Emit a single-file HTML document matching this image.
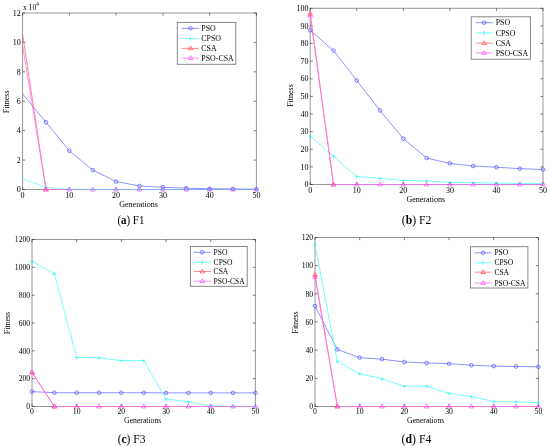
<!DOCTYPE html>
<html><head><meta charset="utf-8"><title>Fitness curves</title>
<style>
html,body{margin:0;padding:0;background:#fff;}
svg{display:block}
.t{font-family:"Liberation Serif",serif;fill:#000}
.cap{font-family:"Liberation Serif",serif;font-size:12px;fill:#000}
</style></head><body>
<svg width="550" height="447" viewBox="0 0 550 447">
<rect width="550" height="447" fill="#fff"/>
<g class="chart-a" font-size="8.0">
<rect x="22.6" y="13.0" width="233.80" height="176.50" fill="#fff" stroke="#989898" stroke-opacity="1" stroke-width="1.0"/>
<path d="M22.60 189.5v-2.6M22.60 13.0v2.6M69.36 189.5v-2.6M69.36 13.0v2.6M116.12 189.5v-2.6M116.12 13.0v2.6M162.88 189.5v-2.6M162.88 13.0v2.6M209.64 189.5v-2.6M209.64 13.0v2.6M256.40 189.5v-2.6M256.40 13.0v2.6M22.6 189.50h2.6M256.4 189.50h-2.6M22.6 160.08h2.6M256.4 160.08h-2.6M22.6 130.67h2.6M256.4 130.67h-2.6M22.6 101.25h2.6M256.4 101.25h-2.6M22.6 71.83h2.6M256.4 71.83h-2.6M22.6 42.42h2.6M256.4 42.42h-2.6M22.6 13.00h2.6M256.4 13.00h-2.6" stroke="#222" stroke-opacity="0.75" stroke-width="0.8" fill="none"/>
<text x="22.60" y="197.70" text-anchor="middle" class="t">0</text>
<text x="69.36" y="197.70" text-anchor="middle" class="t">10</text>
<text x="116.12" y="197.70" text-anchor="middle" class="t">20</text>
<text x="162.88" y="197.70" text-anchor="middle" class="t">30</text>
<text x="209.64" y="197.70" text-anchor="middle" class="t">40</text>
<text x="256.40" y="197.70" text-anchor="middle" class="t">50</text>
<text x="20.80" y="192.20" text-anchor="end" class="t">0</text>
<text x="20.80" y="162.78" text-anchor="end" class="t">2</text>
<text x="20.80" y="133.37" text-anchor="end" class="t">4</text>
<text x="20.80" y="103.95" text-anchor="end" class="t">6</text>
<text x="20.80" y="74.53" text-anchor="end" class="t">8</text>
<text x="20.80" y="45.12" text-anchor="end" class="t">10</text>
<text x="20.80" y="15.70" text-anchor="end" class="t">12</text>
<text x="22.90" y="10.00" class="t" font-size="7.6">x 10<tspan dy="-4.4" font-size="5.2">4</tspan></text>
<text x="138.60" y="207.00" text-anchor="middle" class="t">Generations</text>
<text transform="translate(9.40 101.85) rotate(-90)" text-anchor="middle" class="t">Fitness</text>
<polyline points="22.60,93.90 45.98,122.28 69.36,150.82 92.74,170.09 116.12,181.56 139.50,185.97 162.88,187.29 186.26,188.18 209.64,188.76 233.02,188.91 256.40,189.21" fill="none" stroke="#7272ff" stroke-width="0.78"/>
<polyline points="22.60,34.18 45.98,189.50" fill="none" stroke="#ff6868" stroke-width="0.78"/>
<polyline points="22.60,45.65 45.98,189.50 69.36,189.50 92.74,189.50 116.12,189.50 139.50,189.50 162.88,189.50 186.26,189.50 209.64,189.50 233.02,189.50 256.40,189.50" fill="none" stroke="#ff6cfb" stroke-width="0.78"/>
<polyline points="22.60,178.69 45.98,187.29 69.36,189.21 92.74,189.50 116.12,189.50 139.50,189.50 162.88,189.50 186.26,189.50 209.64,189.50 233.02,189.50 256.40,189.50" fill="none" stroke="#00f0f0" stroke-opacity="0.55" stroke-width="0.78"/>
<circle cx="45.98" cy="122.28" r="1.8" fill="none" stroke="#4c4cff" stroke-width="0.7"/>
<circle cx="69.36" cy="150.82" r="1.8" fill="none" stroke="#4c4cff" stroke-width="0.7"/>
<circle cx="92.74" cy="170.09" r="1.8" fill="none" stroke="#4c4cff" stroke-width="0.7"/>
<circle cx="116.12" cy="181.56" r="1.8" fill="none" stroke="#4c4cff" stroke-width="0.7"/>
<circle cx="139.50" cy="185.97" r="1.8" fill="none" stroke="#4c4cff" stroke-width="0.7"/>
<circle cx="162.88" cy="187.29" r="1.8" fill="none" stroke="#4c4cff" stroke-width="0.7"/>
<circle cx="186.26" cy="188.18" r="1.8" fill="none" stroke="#4c4cff" stroke-width="0.7"/>
<circle cx="209.64" cy="188.76" r="1.8" fill="none" stroke="#4c4cff" stroke-width="0.7"/>
<circle cx="233.02" cy="188.91" r="1.8" fill="none" stroke="#4c4cff" stroke-width="0.7"/>
<circle cx="256.40" cy="189.21" r="1.8" fill="none" stroke="#4c4cff" stroke-width="0.7"/>
<path d="M44.18 187.29H47.78M45.98 185.99V189.49" fill="none" stroke="#30f0f0" stroke-width="0.7"/>
<path d="M67.56 189.21H71.16M69.36 187.91V191.41" fill="none" stroke="#30f0f0" stroke-width="0.7"/>
<path d="M90.94 189.50H94.54M92.74 188.20V191.70" fill="none" stroke="#30f0f0" stroke-width="0.7"/>
<path d="M114.32 189.50H117.92M116.12 188.20V191.70" fill="none" stroke="#30f0f0" stroke-width="0.7"/>
<path d="M137.70 189.50H141.30M139.50 188.20V191.70" fill="none" stroke="#30f0f0" stroke-width="0.7"/>
<path d="M161.08 189.50H164.68M162.88 188.20V191.70" fill="none" stroke="#30f0f0" stroke-width="0.7"/>
<path d="M184.46 189.50H188.06M186.26 188.20V191.70" fill="none" stroke="#30f0f0" stroke-width="0.7"/>
<path d="M207.84 189.50H211.44M209.64 188.20V191.70" fill="none" stroke="#30f0f0" stroke-width="0.7"/>
<path d="M231.22 189.50H234.82M233.02 188.20V191.70" fill="none" stroke="#30f0f0" stroke-width="0.7"/>
<path d="M254.60 189.50H258.20M256.40 188.20V191.70" fill="none" stroke="#30f0f0" stroke-width="0.7"/>
<path d="M45.98 187.20L48.28 190.93H43.68Z" fill="none" stroke="#ff4040" stroke-width="0.7"/>
<path d="M45.98 187.20L48.28 190.93H43.68Z" fill="none" stroke="#ff40f8" stroke-width="0.7"/>
<path d="M69.36 187.20L71.66 190.93H67.06Z" fill="none" stroke="#ff40f8" stroke-width="0.7"/>
<path d="M92.74 187.20L95.04 190.93H90.44Z" fill="none" stroke="#ff40f8" stroke-width="0.7"/>
<path d="M116.12 187.20L118.42 190.93H113.82Z" fill="none" stroke="#ff40f8" stroke-width="0.7"/>
<path d="M139.50 187.20L141.80 190.93H137.20Z" fill="none" stroke="#ff40f8" stroke-width="0.7"/>
<path d="M162.88 187.20L165.18 190.93H160.58Z" fill="none" stroke="#ff40f8" stroke-width="0.7"/>
<path d="M186.26 187.20L188.56 190.93H183.96Z" fill="none" stroke="#ff40f8" stroke-width="0.7"/>
<path d="M209.64 187.20L211.94 190.93H207.34Z" fill="none" stroke="#ff40f8" stroke-width="0.7"/>
<path d="M233.02 187.20L235.32 190.93H230.72Z" fill="none" stroke="#ff40f8" stroke-width="0.7"/>
<path d="M256.40 187.20L258.70 190.93H254.10Z" fill="none" stroke="#ff40f8" stroke-width="0.7"/>
<rect x="177.3" y="22.4" width="58.50" height="41.90" fill="#fff" stroke="#7c7c7c" stroke-width="0.9"/>
<path d="M181.7 28.4H198.8" stroke="#7272ff" stroke-width="0.78"/>
<circle cx="190.60" cy="28.40" r="1.8" fill="none" stroke="#4c4cff" stroke-width="0.7"/>
<text x="201.3" y="31.00" class="t" font-size="7.9">PSO</text>
<path d="M181.7 38.5H198.8" stroke="#50fcfc" stroke-width="0.78"/>
<path d="M190.60 36.20V40.80" fill="none" stroke="#30f0f0" stroke-width="0.7"/>
<text x="201.3" y="41.10" class="t" font-size="7.9">CPSO</text>
<path d="M181.7 48.4H198.8" stroke="#ff6868" stroke-width="0.78"/>
<path d="M190.60 46.10L192.90 49.83H188.30Z" fill="none" stroke="#ff4040" stroke-width="0.7"/>
<text x="201.3" y="51.00" class="t" font-size="7.9">CSA</text>
<path d="M181.7 58.1H198.8" stroke="#ff6cfb" stroke-width="0.78"/>
<path d="M190.60 55.80L192.90 59.53H188.30Z" fill="none" stroke="#ff40f8" stroke-width="0.7"/>
<text x="201.3" y="60.70" class="t" font-size="7.9">PSO-CSA</text>
<text x="117.40" y="224.00" textLength="27.0" lengthAdjust="spacingAndGlyphs" class="cap">(<tspan font-weight="bold">a</tspan>) F1</text>
</g>
<g class="chart-b" font-size="8.0">
<rect x="310.2" y="8.3" width="232.80" height="176.20" fill="#fff" stroke="#989898" stroke-opacity="1" stroke-width="1.0"/>
<path d="M310.20 184.5v-2.6M310.20 8.3v2.6M356.76 184.5v-2.6M356.76 8.3v2.6M403.32 184.5v-2.6M403.32 8.3v2.6M449.88 184.5v-2.6M449.88 8.3v2.6M496.44 184.5v-2.6M496.44 8.3v2.6M543.00 184.5v-2.6M543.00 8.3v2.6M310.2 184.50h2.6M543.0 184.50h-2.6M310.2 166.88h2.6M543.0 166.88h-2.6M310.2 149.26h2.6M543.0 149.26h-2.6M310.2 131.64h2.6M543.0 131.64h-2.6M310.2 114.02h2.6M543.0 114.02h-2.6M310.2 96.40h2.6M543.0 96.40h-2.6M310.2 78.78h2.6M543.0 78.78h-2.6M310.2 61.16h2.6M543.0 61.16h-2.6M310.2 43.54h2.6M543.0 43.54h-2.6M310.2 25.92h2.6M543.0 25.92h-2.6M310.2 8.30h2.6M543.0 8.30h-2.6" stroke="#222" stroke-opacity="0.75" stroke-width="0.8" fill="none"/>
<text x="310.20" y="192.80" text-anchor="middle" class="t">0</text>
<text x="356.76" y="192.80" text-anchor="middle" class="t">10</text>
<text x="403.32" y="192.80" text-anchor="middle" class="t">20</text>
<text x="449.88" y="192.80" text-anchor="middle" class="t">30</text>
<text x="496.44" y="192.80" text-anchor="middle" class="t">40</text>
<text x="543.00" y="192.80" text-anchor="middle" class="t">50</text>
<text x="308.40" y="187.20" text-anchor="end" class="t">0</text>
<text x="308.40" y="169.58" text-anchor="end" class="t">10</text>
<text x="308.40" y="151.96" text-anchor="end" class="t">20</text>
<text x="308.40" y="134.34" text-anchor="end" class="t">30</text>
<text x="308.40" y="116.72" text-anchor="end" class="t">40</text>
<text x="308.40" y="99.10" text-anchor="end" class="t">50</text>
<text x="308.40" y="81.48" text-anchor="end" class="t">60</text>
<text x="308.40" y="63.86" text-anchor="end" class="t">70</text>
<text x="308.40" y="46.24" text-anchor="end" class="t">80</text>
<text x="308.40" y="28.62" text-anchor="end" class="t">90</text>
<text x="308.40" y="11.00" text-anchor="end" class="t">100</text>
<text x="425.80" y="202.10" text-anchor="middle" class="t">Generations</text>
<text transform="translate(292.70 95.60) rotate(-90)" text-anchor="middle" class="t">Fitness</text>
<polyline points="310.20,30.33 333.48,50.59 356.76,80.54 380.04,110.50 403.32,138.69 426.60,158.07 449.88,163.36 473.16,166.00 496.44,167.23 519.72,168.64 543.00,169.52" fill="none" stroke="#7272ff" stroke-width="0.78"/>
<polyline points="310.20,136.05 333.48,156.31 356.76,176.57 380.04,178.33 403.32,180.45 426.60,180.98 449.88,182.39 473.16,182.74 496.44,183.09 519.72,183.44 543.00,183.62" fill="none" stroke="#50fcfc" stroke-width="0.78"/>
<polyline points="310.20,13.59 333.48,184.50" fill="none" stroke="#ff6868" stroke-width="0.78"/>
<polyline points="310.20,15.35 333.48,184.50 356.76,184.50 380.04,184.50 403.32,184.50 426.60,184.50 449.88,184.50 473.16,184.50 496.44,184.50 519.72,184.50 543.00,184.50" fill="none" stroke="#ff6cfb" stroke-width="0.78"/>
<circle cx="310.20" cy="30.33" r="1.8" fill="none" stroke="#4c4cff" stroke-width="0.7"/>
<circle cx="333.48" cy="50.59" r="1.8" fill="none" stroke="#4c4cff" stroke-width="0.7"/>
<circle cx="356.76" cy="80.54" r="1.8" fill="none" stroke="#4c4cff" stroke-width="0.7"/>
<circle cx="380.04" cy="110.50" r="1.8" fill="none" stroke="#4c4cff" stroke-width="0.7"/>
<circle cx="403.32" cy="138.69" r="1.8" fill="none" stroke="#4c4cff" stroke-width="0.7"/>
<circle cx="426.60" cy="158.07" r="1.8" fill="none" stroke="#4c4cff" stroke-width="0.7"/>
<circle cx="449.88" cy="163.36" r="1.8" fill="none" stroke="#4c4cff" stroke-width="0.7"/>
<circle cx="473.16" cy="166.00" r="1.8" fill="none" stroke="#4c4cff" stroke-width="0.7"/>
<circle cx="496.44" cy="167.23" r="1.8" fill="none" stroke="#4c4cff" stroke-width="0.7"/>
<circle cx="519.72" cy="168.64" r="1.8" fill="none" stroke="#4c4cff" stroke-width="0.7"/>
<circle cx="543.00" cy="169.52" r="1.8" fill="none" stroke="#4c4cff" stroke-width="0.7"/>
<path d="M308.40 136.05H312.00M310.20 134.75V138.25" fill="none" stroke="#30f0f0" stroke-width="0.7"/>
<path d="M331.68 156.31H335.28M333.48 155.01V158.51" fill="none" stroke="#30f0f0" stroke-width="0.7"/>
<path d="M354.96 176.57H358.56M356.76 175.27V178.77" fill="none" stroke="#30f0f0" stroke-width="0.7"/>
<path d="M378.24 178.33H381.84M380.04 177.03V180.53" fill="none" stroke="#30f0f0" stroke-width="0.7"/>
<path d="M401.52 180.45H405.12M403.32 179.15V182.65" fill="none" stroke="#30f0f0" stroke-width="0.7"/>
<path d="M424.80 180.98H428.40M426.60 179.68V183.18" fill="none" stroke="#30f0f0" stroke-width="0.7"/>
<path d="M448.08 182.39H451.68M449.88 181.09V184.59" fill="none" stroke="#30f0f0" stroke-width="0.7"/>
<path d="M471.36 182.74H474.96M473.16 181.44V184.94" fill="none" stroke="#30f0f0" stroke-width="0.7"/>
<path d="M494.64 183.09H498.24M496.44 181.79V185.29" fill="none" stroke="#30f0f0" stroke-width="0.7"/>
<path d="M517.92 183.44H521.52M519.72 182.14V185.64" fill="none" stroke="#30f0f0" stroke-width="0.7"/>
<path d="M541.20 183.62H544.80M543.00 182.32V185.82" fill="none" stroke="#30f0f0" stroke-width="0.7"/>
<path d="M310.20 11.29L312.50 15.01H307.90Z" fill="none" stroke="#ff4040" stroke-width="0.7"/>
<path d="M333.48 182.20L335.78 185.93H331.18Z" fill="none" stroke="#ff4040" stroke-width="0.7"/>
<path d="M310.20 13.05L312.50 16.77H307.90Z" fill="none" stroke="#ff40f8" stroke-width="0.7"/>
<path d="M333.48 182.20L335.78 185.93H331.18Z" fill="none" stroke="#ff40f8" stroke-width="0.7"/>
<path d="M356.76 182.20L359.06 185.93H354.46Z" fill="none" stroke="#ff40f8" stroke-width="0.7"/>
<path d="M380.04 182.20L382.34 185.93H377.74Z" fill="none" stroke="#ff40f8" stroke-width="0.7"/>
<path d="M403.32 182.20L405.62 185.93H401.02Z" fill="none" stroke="#ff40f8" stroke-width="0.7"/>
<path d="M426.60 182.20L428.90 185.93H424.30Z" fill="none" stroke="#ff40f8" stroke-width="0.7"/>
<path d="M449.88 182.20L452.18 185.93H447.58Z" fill="none" stroke="#ff40f8" stroke-width="0.7"/>
<path d="M473.16 182.20L475.46 185.93H470.86Z" fill="none" stroke="#ff40f8" stroke-width="0.7"/>
<path d="M496.44 182.20L498.74 185.93H494.14Z" fill="none" stroke="#ff40f8" stroke-width="0.7"/>
<path d="M519.72 182.20L522.02 185.93H517.42Z" fill="none" stroke="#ff40f8" stroke-width="0.7"/>
<path d="M543.00 182.20L545.30 185.93H540.70Z" fill="none" stroke="#ff40f8" stroke-width="0.7"/>
<rect x="471.2" y="16.8" width="59.20" height="42.40" fill="#fff" stroke="#7c7c7c" stroke-width="0.9"/>
<path d="M475.6 22.7H492.9" stroke="#7272ff" stroke-width="0.78"/>
<circle cx="484.20" cy="22.70" r="1.8" fill="none" stroke="#4c4cff" stroke-width="0.7"/>
<text x="495.7" y="25.30" class="t" font-size="7.9">PSO</text>
<path d="M475.6 32.9H492.9" stroke="#50fcfc" stroke-width="0.78"/>
<path d="M484.20 30.60V35.20" fill="none" stroke="#30f0f0" stroke-width="0.7"/>
<text x="495.7" y="35.50" class="t" font-size="7.9">CPSO</text>
<path d="M475.6 43.1H492.9" stroke="#ff6868" stroke-width="0.78"/>
<path d="M484.20 40.80L486.50 44.53H481.90Z" fill="none" stroke="#ff4040" stroke-width="0.7"/>
<text x="495.7" y="45.70" class="t" font-size="7.9">CSA</text>
<path d="M475.6 52.9H492.9" stroke="#ff6cfb" stroke-width="0.78"/>
<path d="M484.20 50.60L486.50 54.33H481.90Z" fill="none" stroke="#ff40f8" stroke-width="0.7"/>
<text x="495.7" y="55.50" class="t" font-size="7.9">PSO-CSA</text>
<text x="401.80" y="224.00" textLength="29.6" lengthAdjust="spacingAndGlyphs" class="cap">(<tspan font-weight="bold">b</tspan>) F2</text>
</g>
<g class="chart-c" font-size="7.7">
<rect x="32.0" y="239.5" width="223.40" height="167.00" fill="#fff" stroke="#989898" stroke-opacity="1" stroke-width="1.0"/>
<path d="M32.00 406.5v-2.6M32.00 239.5v2.6M76.68 406.5v-2.6M76.68 239.5v2.6M121.36 406.5v-2.6M121.36 239.5v2.6M166.04 406.5v-2.6M166.04 239.5v2.6M210.72 406.5v-2.6M210.72 239.5v2.6M255.40 406.5v-2.6M255.40 239.5v2.6M32.0 406.50h2.6M255.4 406.50h-2.6M32.0 378.67h2.6M255.4 378.67h-2.6M32.0 350.83h2.6M255.4 350.83h-2.6M32.0 323.00h2.6M255.4 323.00h-2.6M32.0 295.17h2.6M255.4 295.17h-2.6M32.0 267.33h2.6M255.4 267.33h-2.6M32.0 239.50h2.6M255.4 239.50h-2.6" stroke="#222" stroke-opacity="0.75" stroke-width="0.8" fill="none"/>
<text x="32.00" y="414.20" text-anchor="middle" class="t">0</text>
<text x="76.68" y="414.20" text-anchor="middle" class="t">10</text>
<text x="121.36" y="414.20" text-anchor="middle" class="t">20</text>
<text x="166.04" y="414.20" text-anchor="middle" class="t">30</text>
<text x="210.72" y="414.20" text-anchor="middle" class="t">40</text>
<text x="255.40" y="414.20" text-anchor="middle" class="t">50</text>
<text x="30.20" y="409.20" text-anchor="end" class="t">0</text>
<text x="30.20" y="381.37" text-anchor="end" class="t">200</text>
<text x="30.20" y="353.53" text-anchor="end" class="t">400</text>
<text x="30.20" y="325.70" text-anchor="end" class="t">600</text>
<text x="30.20" y="297.87" text-anchor="end" class="t">800</text>
<text x="30.20" y="270.03" text-anchor="end" class="t">1000</text>
<text x="30.20" y="242.20" text-anchor="end" class="t">1200</text>
<text x="142.70" y="422.80" text-anchor="middle" class="t">Generations</text>
<text transform="translate(10.40 323.00) rotate(-90)" text-anchor="middle" class="t">Fitness</text>
<polyline points="32.00,391.61 54.34,392.72 76.68,392.72 99.02,392.72 121.36,392.72 143.70,392.72 166.04,392.86 188.38,392.86 210.72,392.86 233.06,392.86 255.40,392.86" fill="none" stroke="#7272ff" stroke-width="0.78"/>
<polyline points="32.00,261.49 54.34,273.60 76.68,357.51 99.02,357.79 121.36,360.57 143.70,360.57 166.04,399.12 188.38,401.63 210.72,405.94 233.06,406.22 255.40,406.36" fill="none" stroke="#50fcfc" stroke-width="0.78"/>
<polyline points="32.00,372.13 54.34,406.50" fill="none" stroke="#ff6868" stroke-width="0.78"/>
<polyline points="32.00,372.68 54.34,406.50 76.68,406.50 99.02,406.50 121.36,406.50 143.70,406.50 166.04,406.50 188.38,406.50 210.72,406.50 233.06,406.50 255.40,406.50" fill="none" stroke="#ff6cfb" stroke-width="0.78"/>
<circle cx="32.00" cy="391.61" r="1.8" fill="none" stroke="#4c4cff" stroke-width="0.7"/>
<circle cx="54.34" cy="392.72" r="1.8" fill="none" stroke="#4c4cff" stroke-width="0.7"/>
<circle cx="76.68" cy="392.72" r="1.8" fill="none" stroke="#4c4cff" stroke-width="0.7"/>
<circle cx="99.02" cy="392.72" r="1.8" fill="none" stroke="#4c4cff" stroke-width="0.7"/>
<circle cx="121.36" cy="392.72" r="1.8" fill="none" stroke="#4c4cff" stroke-width="0.7"/>
<circle cx="143.70" cy="392.72" r="1.8" fill="none" stroke="#4c4cff" stroke-width="0.7"/>
<circle cx="166.04" cy="392.86" r="1.8" fill="none" stroke="#4c4cff" stroke-width="0.7"/>
<circle cx="188.38" cy="392.86" r="1.8" fill="none" stroke="#4c4cff" stroke-width="0.7"/>
<circle cx="210.72" cy="392.86" r="1.8" fill="none" stroke="#4c4cff" stroke-width="0.7"/>
<circle cx="233.06" cy="392.86" r="1.8" fill="none" stroke="#4c4cff" stroke-width="0.7"/>
<circle cx="255.40" cy="392.86" r="1.8" fill="none" stroke="#4c4cff" stroke-width="0.7"/>
<path d="M30.20 261.49H33.80M32.00 260.19V263.69" fill="none" stroke="#30f0f0" stroke-width="0.7"/>
<path d="M52.54 273.60H56.14M54.34 272.30V275.80" fill="none" stroke="#30f0f0" stroke-width="0.7"/>
<path d="M74.88 357.51H78.48M76.68 356.21V359.71" fill="none" stroke="#30f0f0" stroke-width="0.7"/>
<path d="M97.22 357.79H100.82M99.02 356.49V359.99" fill="none" stroke="#30f0f0" stroke-width="0.7"/>
<path d="M119.56 360.57H123.16M121.36 359.27V362.77" fill="none" stroke="#30f0f0" stroke-width="0.7"/>
<path d="M141.90 360.57H145.50M143.70 359.27V362.77" fill="none" stroke="#30f0f0" stroke-width="0.7"/>
<path d="M164.24 399.12H167.84M166.04 397.82V401.32" fill="none" stroke="#30f0f0" stroke-width="0.7"/>
<path d="M186.58 401.63H190.18M188.38 400.33V403.83" fill="none" stroke="#30f0f0" stroke-width="0.7"/>
<path d="M208.92 405.94H212.52M210.72 404.64V408.14" fill="none" stroke="#30f0f0" stroke-width="0.7"/>
<path d="M231.26 406.22H234.86M233.06 404.92V408.42" fill="none" stroke="#30f0f0" stroke-width="0.7"/>
<path d="M253.60 406.36H257.20M255.40 405.06V408.56" fill="none" stroke="#30f0f0" stroke-width="0.7"/>
<path d="M32.00 369.83L34.30 373.55H29.70Z" fill="none" stroke="#ff4040" stroke-width="0.7"/>
<path d="M54.34 404.20L56.64 407.93H52.04Z" fill="none" stroke="#ff4040" stroke-width="0.7"/>
<path d="M32.00 370.38L34.30 374.11H29.70Z" fill="none" stroke="#ff40f8" stroke-width="0.7"/>
<path d="M54.34 404.20L56.64 407.93H52.04Z" fill="none" stroke="#ff40f8" stroke-width="0.7"/>
<path d="M76.68 404.20L78.98 407.93H74.38Z" fill="none" stroke="#ff40f8" stroke-width="0.7"/>
<path d="M99.02 404.20L101.32 407.93H96.72Z" fill="none" stroke="#ff40f8" stroke-width="0.7"/>
<path d="M121.36 404.20L123.66 407.93H119.06Z" fill="none" stroke="#ff40f8" stroke-width="0.7"/>
<path d="M143.70 404.20L146.00 407.93H141.40Z" fill="none" stroke="#ff40f8" stroke-width="0.7"/>
<path d="M166.04 404.20L168.34 407.93H163.74Z" fill="none" stroke="#ff40f8" stroke-width="0.7"/>
<path d="M188.38 404.20L190.68 407.93H186.08Z" fill="none" stroke="#ff40f8" stroke-width="0.7"/>
<path d="M210.72 404.20L213.02 407.93H208.42Z" fill="none" stroke="#ff40f8" stroke-width="0.7"/>
<path d="M233.06 404.20L235.36 407.93H230.76Z" fill="none" stroke="#ff40f8" stroke-width="0.7"/>
<path d="M255.40 404.20L257.70 407.93H253.10Z" fill="none" stroke="#ff40f8" stroke-width="0.7"/>
<rect x="190.4" y="246.5" width="56.80" height="39.80" fill="#fff" stroke="#7c7c7c" stroke-width="0.9"/>
<path d="M193.7 252.3H210.8" stroke="#7272ff" stroke-width="0.78"/>
<circle cx="202.30" cy="252.30" r="1.8" fill="none" stroke="#4c4cff" stroke-width="0.7"/>
<text x="213.6" y="254.90" class="t" font-size="7.55">PSO</text>
<path d="M193.7 262.3H210.8" stroke="#50fcfc" stroke-width="0.78"/>
<path d="M202.30 260.00V264.60" fill="none" stroke="#30f0f0" stroke-width="0.7"/>
<text x="213.6" y="264.90" class="t" font-size="7.55">CPSO</text>
<path d="M193.7 271.5H210.8" stroke="#ff6868" stroke-width="0.78"/>
<path d="M202.30 269.20L204.60 272.93H200.00Z" fill="none" stroke="#ff4040" stroke-width="0.7"/>
<text x="213.6" y="274.10" class="t" font-size="7.55">CSA</text>
<path d="M193.7 281.2H210.8" stroke="#ff6cfb" stroke-width="0.78"/>
<path d="M202.30 278.90L204.60 282.63H200.00Z" fill="none" stroke="#ff40f8" stroke-width="0.7"/>
<text x="213.6" y="283.80" class="t" font-size="7.55">PSO-CSA</text>
<text x="117.65" y="442.60" textLength="27.9" lengthAdjust="spacingAndGlyphs" class="cap">(<tspan font-weight="bold">c</tspan>) F3</text>
</g>
<g class="chart-d" font-size="7.7">
<rect x="315.0" y="237.5" width="223.40" height="169.00" fill="#fff" stroke="#989898" stroke-opacity="1" stroke-width="1.0"/>
<path d="M315.00 406.5v-2.6M315.00 237.5v2.6M359.68 406.5v-2.6M359.68 237.5v2.6M404.36 406.5v-2.6M404.36 237.5v2.6M449.04 406.5v-2.6M449.04 237.5v2.6M493.72 406.5v-2.6M493.72 237.5v2.6M538.40 406.5v-2.6M538.40 237.5v2.6M315.0 406.50h2.6M538.4 406.50h-2.6M315.0 378.33h2.6M538.4 378.33h-2.6M315.0 350.17h2.6M538.4 350.17h-2.6M315.0 322.00h2.6M538.4 322.00h-2.6M315.0 293.83h2.6M538.4 293.83h-2.6M315.0 265.67h2.6M538.4 265.67h-2.6M315.0 237.50h2.6M538.4 237.50h-2.6" stroke="#222" stroke-opacity="0.75" stroke-width="0.8" fill="none"/>
<text x="315.00" y="414.40" text-anchor="middle" class="t">0</text>
<text x="359.68" y="414.40" text-anchor="middle" class="t">10</text>
<text x="404.36" y="414.40" text-anchor="middle" class="t">20</text>
<text x="449.04" y="414.40" text-anchor="middle" class="t">30</text>
<text x="493.72" y="414.40" text-anchor="middle" class="t">40</text>
<text x="538.40" y="414.40" text-anchor="middle" class="t">50</text>
<text x="313.20" y="409.20" text-anchor="end" class="t">0</text>
<text x="313.20" y="381.03" text-anchor="end" class="t">20</text>
<text x="313.20" y="352.87" text-anchor="end" class="t">40</text>
<text x="313.20" y="324.70" text-anchor="end" class="t">60</text>
<text x="313.20" y="296.53" text-anchor="end" class="t">80</text>
<text x="313.20" y="268.37" text-anchor="end" class="t">100</text>
<text x="313.20" y="240.20" text-anchor="end" class="t">120</text>
<text x="425.70" y="423.10" text-anchor="middle" class="t">Generations</text>
<text transform="translate(297.60 322.50) rotate(-90)" text-anchor="middle" class="t">Fitness</text>
<polyline points="315.00,306.09 337.34,349.46 359.68,357.63 382.02,359.18 404.36,362.00 426.70,362.98 449.04,363.69 471.38,365.24 493.72,366.08 516.06,366.50 538.40,366.78" fill="none" stroke="#7272ff" stroke-width="0.78"/>
<polyline points="315.00,244.68 337.34,361.43 359.68,373.69 382.02,378.76 404.36,386.22 426.70,386.22 449.04,393.40 471.38,396.50 493.72,401.57 516.06,401.85 538.40,402.84" fill="none" stroke="#50fcfc" stroke-width="0.78"/>
<polyline points="315.00,274.82 337.34,406.50" fill="none" stroke="#ff6868" stroke-width="0.78"/>
<polyline points="315.00,276.93 337.34,406.50 359.68,406.50 382.02,406.50 404.36,406.50 426.70,406.50 449.04,406.50 471.38,406.50 493.72,406.50 516.06,406.50 538.40,406.50" fill="none" stroke="#ff6cfb" stroke-width="0.78"/>
<circle cx="315.00" cy="306.09" r="1.8" fill="none" stroke="#4c4cff" stroke-width="0.7"/>
<circle cx="337.34" cy="349.46" r="1.8" fill="none" stroke="#4c4cff" stroke-width="0.7"/>
<circle cx="359.68" cy="357.63" r="1.8" fill="none" stroke="#4c4cff" stroke-width="0.7"/>
<circle cx="382.02" cy="359.18" r="1.8" fill="none" stroke="#4c4cff" stroke-width="0.7"/>
<circle cx="404.36" cy="362.00" r="1.8" fill="none" stroke="#4c4cff" stroke-width="0.7"/>
<circle cx="426.70" cy="362.98" r="1.8" fill="none" stroke="#4c4cff" stroke-width="0.7"/>
<circle cx="449.04" cy="363.69" r="1.8" fill="none" stroke="#4c4cff" stroke-width="0.7"/>
<circle cx="471.38" cy="365.24" r="1.8" fill="none" stroke="#4c4cff" stroke-width="0.7"/>
<circle cx="493.72" cy="366.08" r="1.8" fill="none" stroke="#4c4cff" stroke-width="0.7"/>
<circle cx="516.06" cy="366.50" r="1.8" fill="none" stroke="#4c4cff" stroke-width="0.7"/>
<circle cx="538.40" cy="366.78" r="1.8" fill="none" stroke="#4c4cff" stroke-width="0.7"/>
<path d="M313.20 244.68H316.80M315.00 243.38V246.88" fill="none" stroke="#30f0f0" stroke-width="0.7"/>
<path d="M335.54 361.43H339.14M337.34 360.13V363.63" fill="none" stroke="#30f0f0" stroke-width="0.7"/>
<path d="M357.88 373.69H361.48M359.68 372.39V375.89" fill="none" stroke="#30f0f0" stroke-width="0.7"/>
<path d="M380.22 378.76H383.82M382.02 377.46V380.96" fill="none" stroke="#30f0f0" stroke-width="0.7"/>
<path d="M402.56 386.22H406.16M404.36 384.92V388.42" fill="none" stroke="#30f0f0" stroke-width="0.7"/>
<path d="M424.90 386.22H428.50M426.70 384.92V388.42" fill="none" stroke="#30f0f0" stroke-width="0.7"/>
<path d="M447.24 393.40H450.84M449.04 392.10V395.60" fill="none" stroke="#30f0f0" stroke-width="0.7"/>
<path d="M469.58 396.50H473.18M471.38 395.20V398.70" fill="none" stroke="#30f0f0" stroke-width="0.7"/>
<path d="M491.92 401.57H495.52M493.72 400.27V403.77" fill="none" stroke="#30f0f0" stroke-width="0.7"/>
<path d="M514.26 401.85H517.86M516.06 400.55V404.05" fill="none" stroke="#30f0f0" stroke-width="0.7"/>
<path d="M536.60 402.84H540.20M538.40 401.54V405.04" fill="none" stroke="#30f0f0" stroke-width="0.7"/>
<path d="M315.00 272.52L317.30 276.25H312.70Z" fill="none" stroke="#ff4040" stroke-width="0.7"/>
<path d="M337.34 404.20L339.64 407.93H335.04Z" fill="none" stroke="#ff4040" stroke-width="0.7"/>
<path d="M315.00 274.63L317.30 278.36H312.70Z" fill="none" stroke="#ff40f8" stroke-width="0.7"/>
<path d="M337.34 404.20L339.64 407.93H335.04Z" fill="none" stroke="#ff40f8" stroke-width="0.7"/>
<path d="M359.68 404.20L361.98 407.93H357.38Z" fill="none" stroke="#ff40f8" stroke-width="0.7"/>
<path d="M382.02 404.20L384.32 407.93H379.72Z" fill="none" stroke="#ff40f8" stroke-width="0.7"/>
<path d="M404.36 404.20L406.66 407.93H402.06Z" fill="none" stroke="#ff40f8" stroke-width="0.7"/>
<path d="M426.70 404.20L429.00 407.93H424.40Z" fill="none" stroke="#ff40f8" stroke-width="0.7"/>
<path d="M449.04 404.20L451.34 407.93H446.74Z" fill="none" stroke="#ff40f8" stroke-width="0.7"/>
<path d="M471.38 404.20L473.68 407.93H469.08Z" fill="none" stroke="#ff40f8" stroke-width="0.7"/>
<path d="M493.72 404.20L496.02 407.93H491.42Z" fill="none" stroke="#ff40f8" stroke-width="0.7"/>
<path d="M516.06 404.20L518.36 407.93H513.76Z" fill="none" stroke="#ff40f8" stroke-width="0.7"/>
<path d="M538.40 404.20L540.70 407.93H536.10Z" fill="none" stroke="#ff40f8" stroke-width="0.7"/>
<rect x="470.5" y="246.7" width="57.40" height="41.30" fill="#fff" stroke="#7c7c7c" stroke-width="0.9"/>
<path d="M474.5 252.8H491.6" stroke="#7272ff" stroke-width="0.78"/>
<circle cx="483.20" cy="252.80" r="1.8" fill="none" stroke="#4c4cff" stroke-width="0.7"/>
<text x="494.4" y="255.40" class="t" font-size="7.55">PSO</text>
<path d="M474.5 262.8H491.6" stroke="#50fcfc" stroke-width="0.78"/>
<path d="M483.20 260.50V265.10" fill="none" stroke="#30f0f0" stroke-width="0.7"/>
<text x="494.4" y="265.40" class="t" font-size="7.55">CPSO</text>
<path d="M474.5 272.2H491.6" stroke="#ff6868" stroke-width="0.78"/>
<path d="M483.20 269.90L485.50 273.63H480.90Z" fill="none" stroke="#ff4040" stroke-width="0.7"/>
<text x="494.4" y="274.80" class="t" font-size="7.55">CSA</text>
<path d="M474.5 283.0H491.6" stroke="#ff6cfb" stroke-width="0.78"/>
<path d="M483.20 280.70L485.50 284.43H480.90Z" fill="none" stroke="#ff40f8" stroke-width="0.7"/>
<text x="494.4" y="285.60" class="t" font-size="7.55">PSO-CSA</text>
<text x="401.60" y="442.60" textLength="29.8" lengthAdjust="spacingAndGlyphs" class="cap">(<tspan font-weight="bold">d</tspan>) F4</text>
</g>
</svg>
</body></html>
